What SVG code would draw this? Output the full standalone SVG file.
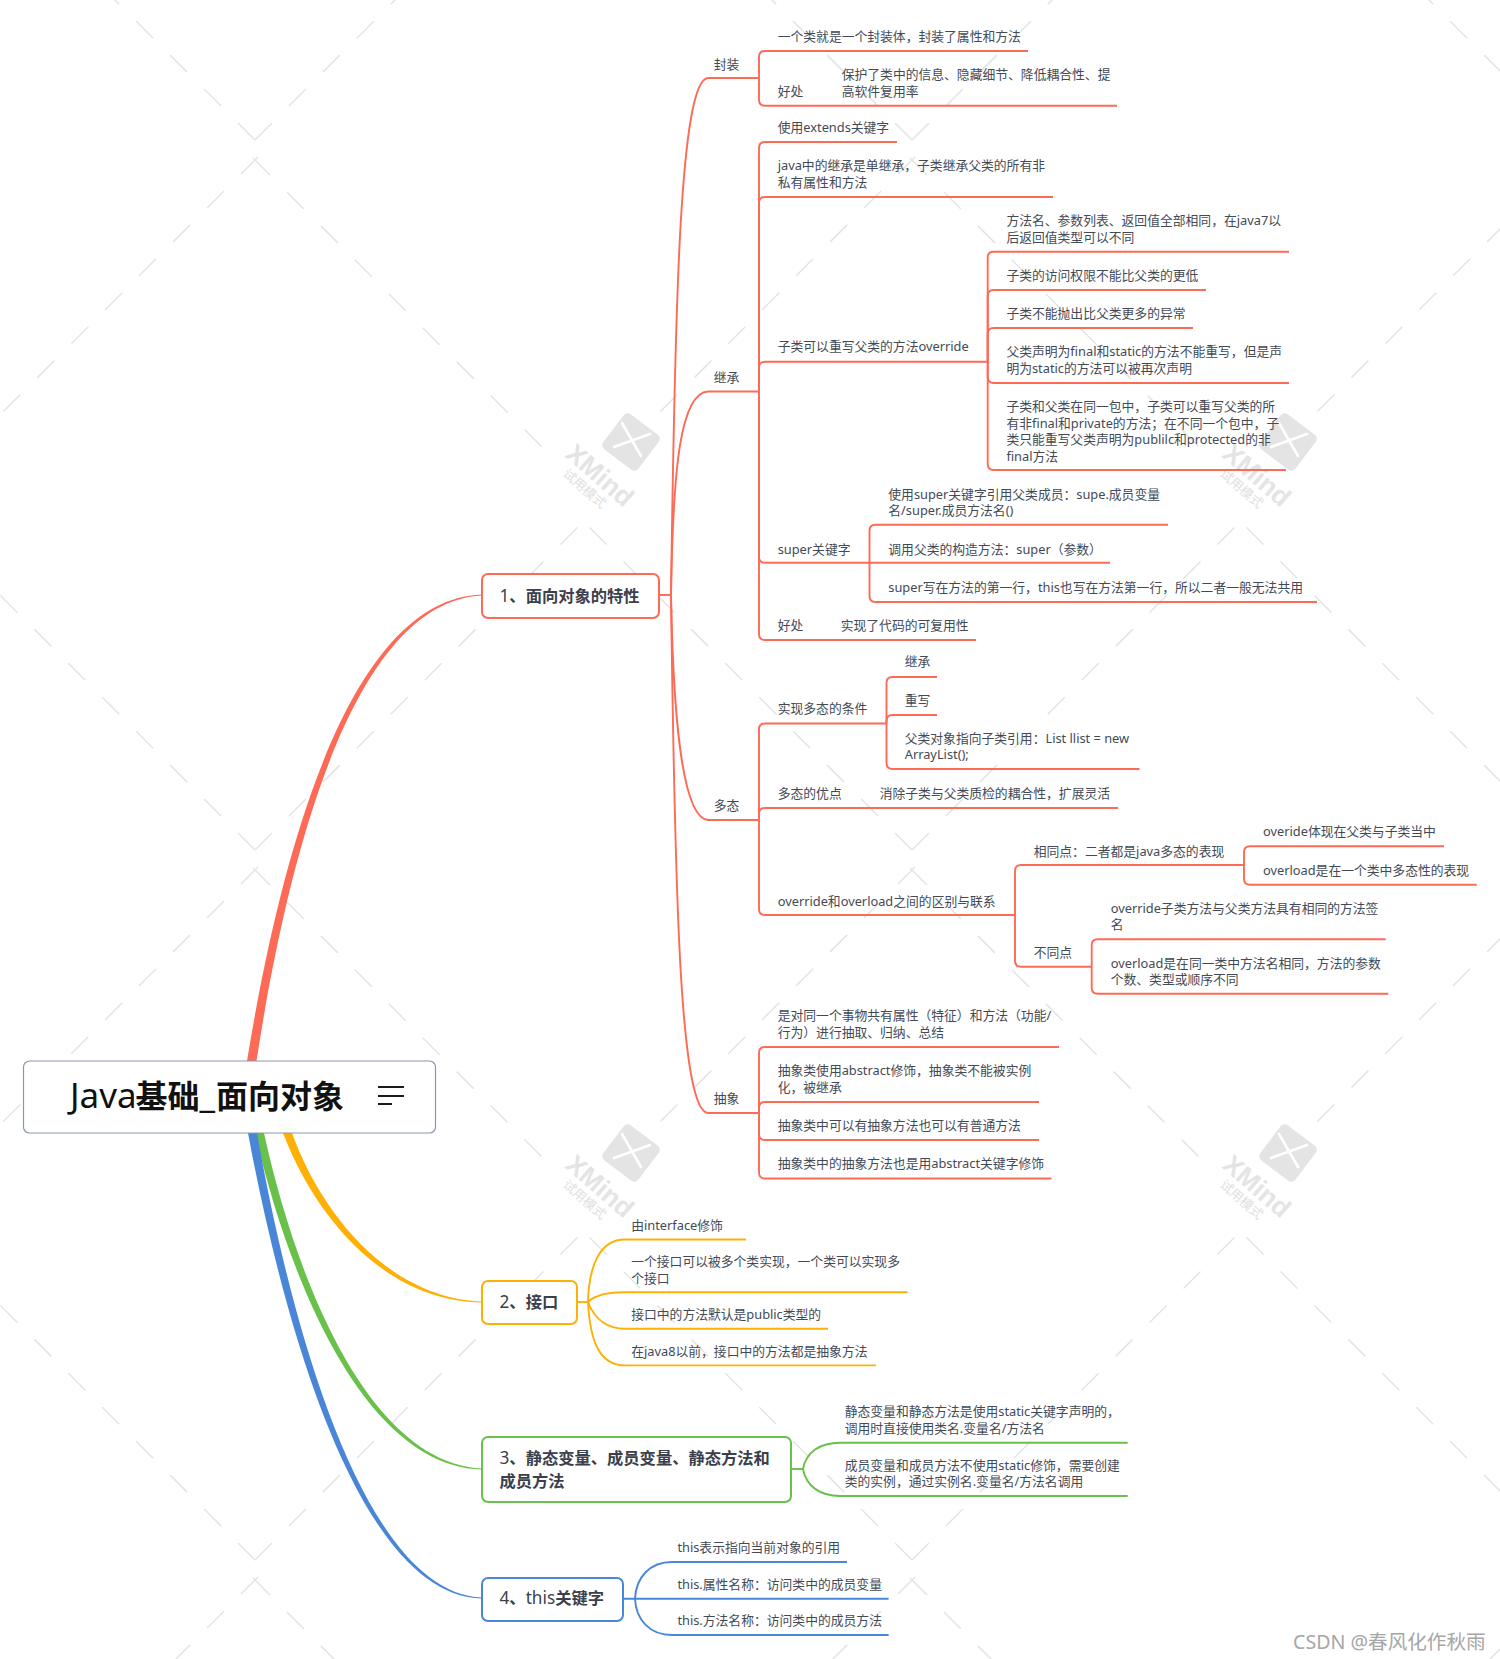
<svg xmlns="http://www.w3.org/2000/svg" width="1500" height="1659" viewBox="0 0 1500 1659">
<style>
text{font-family:"Noto Sans","Noto Sans CJK SC",sans-serif}
.t{font-size:12.8px;fill:#434a56;transform:translate(-.3px,-.3px)}
.m{font-size:16.3px;font-weight:700;fill:#3a404c}
.l{font-weight:400;font-size:17.2px}
.r{font-size:32px;font-weight:700;fill:#111}
.rl{font-weight:400;font-size:35px}
.box{fill:#fff;stroke-width:2}
.c{fill:none;stroke-width:1.9}
.red{stroke:#fd6a56}.org{stroke:#ffb005}.grn{stroke:#69c04a}.blu{stroke:#4a86d8}
.wm{fill:none;stroke:#e4e4e4;stroke-width:1.5;stroke-dasharray:24 24}
</style>
<defs>
<g id="xm">
<path class="wm" d="M0,-10L-328,-338"/><path class="wm" d="M0,-10L328,-338"/><path class="wm" d="M3,7L-328,338"/><path class="wm" d="M-2,8L328,338"/>
</g>
<g id="logo">
<polygon points="-85,-2 0,-42 34,-2 12,76 -50,84" fill="#fff"/>
<g transform="translate(0,1) rotate(37)"><rect x="-22" y="-22" width="44" height="44" rx="5" fill="#e4e4e4"/></g>
<path d="M-9,-18L10,15M-17,6L19,-7" stroke="#fff" stroke-width="2.6" stroke-linecap="round" fill="none"/>
<text transform="translate(-67,15) rotate(41)" font-size="26.5" font-weight="700" fill="#e4e4e4" style="font-family:'Liberation Sans',sans-serif">XMind</text>
<text transform="translate(-69,34) rotate(41)" font-size="13" fill="#e0e0e0" style="font-family:'Noto Sans CJK SC',sans-serif">试用模式</text>
</g>
</defs>
<rect width="1500" height="1659" fill="#fff"/>
<g id="watermark">
<use href="#xm" x="255" y="150"/><use href="#xm" x="912" y="150"/><use href="#xm" x="1569" y="150"/>
<use href="#xm" x="255" y="860"/><use href="#xm" x="912" y="860"/><use href="#xm" x="1569" y="860"/>
<use href="#xm" x="255" y="1570"/><use href="#xm" x="912" y="1570"/><use href="#xm" x="1569" y="1570"/>
<use href="#logo" x="631" y="441"/><use href="#logo" x="1288" y="441"/><use href="#logo" x="631" y="1152"/><use href="#logo" x="1288" y="1152"/>
</g>
<g id="connectors">
<path fill="#fd6a56" d="M247,1061C286.6,819.2 358.1,598.4 482,594.5V595.5C361.9,601.6 293.4,820.8 256.5,1061Z"/>
<path fill="#ffb005" d="M283,1133C317,1221.8 388.1,1301.6 482,1302.5V1301.5C391.9,1298.4 323,1218.2 292,1133Z"/>
<path fill="#69c04a" d="M255,1133C291.7,1291.1 368.3,1466.8 482,1469.5V1468.5C371.7,1463.2 298.3,1288.9 264,1133Z"/>
<path fill="#4a86d8" d="M248,1133C286.6,1340.8 363,1596.5 482,1598.5V1597.5C367,1593.5 293.4,1339.2 257,1133Z"/>
<g class="c red">
<path d="M659,595H671"/>
<path d="M671,595C675,300 680,80 708,78H759"/>
<path d="M671,595C673,470 680,393 708,391.5H759"/>
<path d="M671,595C673,700 680,818 708,820H759"/>
<path d="M671,595C675,900 680,1111 708,1113H759"/>
<path d="M759,78V57Q759,51 765,51H1028"/>
<path d="M759,78V99.7Q759,105.7 765,105.7H1117"/>
<path d="M759,391.5V148Q759,142 765,142H897"/>
<path d="M759,391.5V203Q759,197 765,197H1053"/>
<path d="M759,391.5V367.8Q759,361.8 765,361.8H987.7"/>
<path d="M759,391.5V556.8Q759,562.8 765,562.8H869.5"/>
<path d="M759,391.5V634Q759,640 765,640H976"/>
<path d="M987.7,361.8V257.7Q987.7,251.7 993.7,251.7H1289"/>
<path d="M987.7,361.8V296Q987.7,290 993.7,290H1206"/>
<path d="M987.7,361.8V334Q987.7,328 993.7,328H1193"/>
<path d="M987.7,361.8V377Q987.7,383 993.7,383H1289"/>
<path d="M987.7,361.8V464Q987.7,470 993.7,470H1286"/>
<path d="M869.5,562.8V530.7Q869.5,524.7 875.5,524.7H1168"/>
<path d="M869.5,562.8H1110"/>
<path d="M869.5,562.8V596Q869.5,602 875.5,602H1317"/>
<path d="M759,820V729.5Q759,723.5 765,723.5H886.5"/>
<path d="M759,820V814Q759,808 765,808H1118"/>
<path d="M759,820V909Q759,915 765,915H1015"/>
<path d="M886.5,723.5V683Q886.5,677 892.5,677H937"/>
<path d="M886.5,723.5V721Q886.5,715 892.5,715H937"/>
<path d="M886.5,723.5V763Q886.5,769 892.5,769H1139.5"/>
<path d="M1015,915V871Q1015,865 1021,865H1244"/>
<path d="M1015,915V960.7Q1015,966.7 1021,966.7H1091.7"/>
<path d="M1244,865V852.3Q1244,846.3 1250,846.3H1444"/>
<path d="M1244,865V878.7Q1244,884.7 1250,884.7H1476.7"/>
<path d="M1091.7,966.7V945.3Q1091.7,939.3 1097.7,939.3H1385.7"/>
<path d="M1091.7,966.7V987.7Q1091.7,993.7 1097.7,993.7H1388.3"/>
<path d="M759,1113V1053Q759,1047 765,1047H1059"/>
<path d="M759,1113V1108Q759,1102 765,1102H1039"/>
<path d="M759,1113V1134Q759,1140 765,1140H1039"/>
<path d="M759,1113V1172.5Q759,1178.5 765,1178.5H1051.5"/>
</g>
<g class="c org">
<path d="M577,1302H588"/>
<path d="M588,1302C589,1265 600,1239.5 625,1239.5H746"/>
<path d="M588,1302C595,1295 607,1292.3 625,1292.3H907.6"/>
<path d="M588,1302C595,1320 607,1328.7 625,1328.7H828"/>
<path d="M588,1302C590,1342 600,1365.4 625,1365.4H876"/>
</g>
<g class="c grn">
<path d="M791,1469H803"/>
<path d="M803,1469C806,1452 820,1442.7 840,1442.7H1127.7"/>
<path d="M803,1469C806,1486 820,1496 840,1496H1127.7"/>
</g>
<g class="c blu">
<path d="M623,1598.7H888.6"/>
<path d="M635,1598.7C636,1577 650,1562 672,1562H847"/>
<path d="M635,1598.7C636,1620 650,1635 672,1635H888.6"/>
</g>
</g>
<g id="root">
<rect x="23.5" y="1061" width="412" height="72" rx="6" fill="#fff" stroke="#8a97ac" stroke-width="1.2"/>
<text class="r" x="70" y="1108"><tspan class="rl">Java</tspan><tspan x="135.5">基础</tspan><tspan class="rl" x="199.5">_</tspan><tspan x="216">面向对象</tspan></text>
<path d="M378,1087H404M378,1096H404M378,1104H392" stroke="#1a1a1a" stroke-width="2" fill="none"/>
</g>
<g id="topic1"><rect class="box red" x="482" y="574" width="177" height="44" rx="6"/><text class="m" x="499.5" y="602"><tspan class="l">1</tspan>、面向对象的特性</text></g>
<g id="topic2"><rect class="box org" x="482" y="1281" width="95" height="43" rx="6"/><text class="m" x="499.5" y="1308"><tspan class="l">2</tspan>、接口</text></g>
<g id="topic3"><rect class="box grn" x="482" y="1437" width="309" height="65" rx="6"/><text class="m" x="499.5" y="1464"><tspan class="l">3</tspan>、静态变量、成员变量、静态方法和</text><text class="m" x="499.5" y="1487">成员方法</text></g>
<g id="topic4"><rect class="box blu" x="482" y="1578" width="141" height="43" rx="6"/><text class="m" x="499.5" y="1604"><tspan class="l">4</tspan>、<tspan class="l">this</tspan>关键字</text></g>
<g id="n-fz"><text class="t" x="714" y="69">封装</text></g>
<g id="n-fz1"><text class="t" x="778" y="41">一个类就是一个封装体，封装了属性和方法</text></g>
<g id="n-fz2"><text class="t" x="778" y="96">好处</text></g>
<g id="n-fz3"><text class="t" x="842" y="79.5">保护了类中的信息、隐藏细节、降低耦合性、提</text><text class="t" x="842" y="96">高软件复用率</text></g>
<g id="n-jc"><text class="t" x="714" y="382">继承</text></g>
<g id="n-jc1"><text class="t" x="778" y="132">使用extends关键字</text></g>
<g id="n-jc2"><text class="t" x="778" y="170.5">java中的继承是单继承，子类继承父类的所有非</text><text class="t" x="778" y="187">私有属性和方法</text></g>
<g id="n-ov"><text class="t" x="778" y="351">子类可以重写父类的方法override</text></g>
<g id="n-ov1"><text class="t" x="1006.7" y="225.5">方法名、参数列表、返回值全部相同，在java7以</text><text class="t" x="1006.7" y="242">后返回值类型可以不同</text></g>
<g id="n-ov2"><text class="t" x="1006.7" y="280">子类的访问权限不能比父类的更低</text></g>
<g id="n-ov3"><text class="t" x="1006.7" y="318">子类不能抛出比父类更多的异常</text></g>
<g id="n-ov4"><text class="t" x="1006.7" y="356.5">父类声明为final和static的方法不能重写，但是声</text><text class="t" x="1006.7" y="373">明为static的方法可以被再次声明</text></g>
<g id="n-ov5"><text class="t" x="1006.7" y="411.5">子类和父类在同一包中，子类可以重写父类的所</text><text class="t" x="1006.7" y="428">有非final和private的方法；在不同一个包中，子</text><text class="t" x="1006.7" y="444.5">类只能重写父类声明为publilc和protected的非</text><text class="t" x="1006.7" y="461">final方法</text></g>
<g id="n-su"><text class="t" x="778" y="554">super关键字</text></g>
<g id="n-su1"><text class="t" x="888.6" y="499">使用super关键字引用父类成员：supe.成员变量</text><text class="t" x="888.6" y="515.5">名/super.成员方法名()</text></g>
<g id="n-su2"><text class="t" x="888.6" y="554">调用父类的构造方法：super（参数）</text></g>
<g id="n-su3"><text class="t" x="888.6" y="592">super写在方法的第一行，this也写在方法第一行，所以二者一般无法共用</text></g>
<g id="n-hc"><text class="t" x="778" y="630">好处</text></g>
<g id="n-hc1"><text class="t" x="841" y="630">实现了代码的可复用性</text></g>
<g id="n-dt"><text class="t" x="714" y="810">多态</text></g>
<g id="n-dt1"><text class="t" x="778" y="713">实现多态的条件</text></g>
<g id="n-dt11"><text class="t" x="905" y="666">继承</text></g>
<g id="n-dt12"><text class="t" x="905" y="705">重写</text></g>
<g id="n-dt13"><text class="t" x="905" y="743">父类对象指向子类引用：List llist = new</text><text class="t" x="905" y="759.5">ArrayList();</text></g>
<g id="n-dt2"><text class="t" x="778" y="798">多态的优点</text></g>
<g id="n-dt21"><text class="t" x="880" y="798">消除子类与父类质检的耦合性，扩展灵活</text></g>
<g id="n-dt3"><text class="t" x="778" y="906">override和overload之间的区别与联系</text></g>
<g id="n-dt31"><text class="t" x="1034" y="856">相同点：二者都是java多态的表现</text></g>
<g id="n-dt311"><text class="t" x="1263.3" y="836.5">overide体现在父类与子类当中</text></g>
<g id="n-dt312"><text class="t" x="1263.3" y="875">overload是在一个类中多态性的表现</text></g>
<g id="n-dt32"><text class="t" x="1034" y="957">不同点</text></g>
<g id="n-dt321"><text class="t" x="1111" y="913">override子类方法与父类方法具有相同的方法签</text><text class="t" x="1111" y="929.5">名</text></g>
<g id="n-dt322"><text class="t" x="1111" y="968">overload是在同一类中方法名相同，方法的参数</text><text class="t" x="1111" y="984.5">个数、类型或顺序不同</text></g>
<g id="n-cx"><text class="t" x="714" y="1103">抽象</text></g>
<g id="n-cx1"><text class="t" x="778" y="1020.5">是对同一个事物共有属性（特征）和方法（功能/</text><text class="t" x="778" y="1037">行为）进行抽取、归纳、总结</text></g>
<g id="n-cx2"><text class="t" x="778" y="1075.5">抽象类使用abstract修饰，抽象类不能被实例</text><text class="t" x="778" y="1092">化，被继承</text></g>
<g id="n-cx3"><text class="t" x="778" y="1130.5">抽象类中可以有抽象方法也可以有普通方法</text></g>
<g id="n-cx4"><text class="t" x="778" y="1168.5">抽象类中的抽象方法也是用abstract关键字修饰</text></g>
<g id="n-if1"><text class="t" x="631.5" y="1230">由interface修饰</text></g>
<g id="n-if2"><text class="t" x="631.5" y="1266.5">一个接口可以被多个类实现，一个类可以实现多</text><text class="t" x="631.5" y="1283">个接口</text></g>
<g id="n-if3"><text class="t" x="631.5" y="1319">接口中的方法默认是public类型的</text></g>
<g id="n-if4"><text class="t" x="631.5" y="1356">在java8以前，接口中的方法都是抽象方法</text></g>
<g id="n-st1"><text class="t" x="845" y="1416.5">静态变量和静态方法是使用static关键字声明的，</text><text class="t" x="845" y="1433">调用时直接使用类名.变量名/方法名</text></g>
<g id="n-st2"><text class="t" x="845" y="1470">成员变量和成员方法不使用static修饰，需要创建</text><text class="t" x="845" y="1486.5">类的实例，通过实例名.变量名/方法名调用</text></g>
<g id="n-th1"><text class="t" x="677.7" y="1552.5">this表示指向当前对象的引用</text></g>
<g id="n-th2"><text class="t" x="677.7" y="1589">this.属性名称：访问类中的成员变量</text></g>
<g id="n-th3"><text class="t" x="677.7" y="1625.5">this.方法名称：访问类中的成员方法</text></g>
<text x="1293" y="1649" font-size="19.6" fill="#a6a6a6">CSDN @春风化作秋雨</text>
</svg>
